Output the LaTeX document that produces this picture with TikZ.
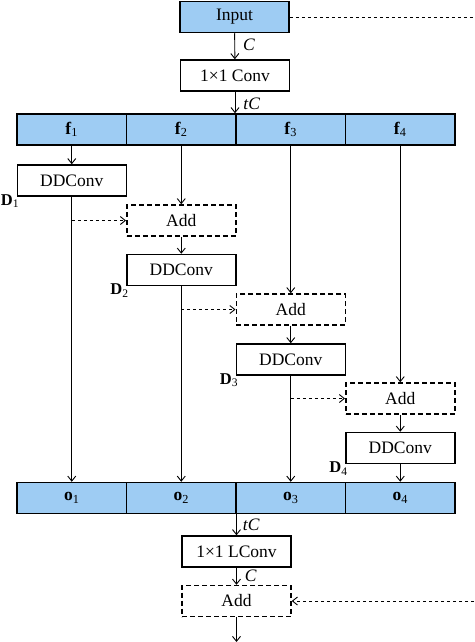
\documentclass[tikz,border=0pt]{standalone}
\usepackage{fontspec}
\setmainfont{Liberation Serif}
\usepackage{tikz}
\usetikzlibrary{arrows.meta}

\definecolor{cellblue}{RGB}{158,204,243}

\begin{document}
\begin{tikzpicture}[x=1pt, y=-1pt,
        font=\fontsize{17.5}{20}\selectfont,
        box/.style={draw, line width=1.5pt, minimum width=109pt, minimum height=31pt, inner sep=0pt},
        addbox/.style={box, dashed, dash pattern=on 5pt off 3pt},
        cell/.style={box, fill=cellblue, minimum width=109.5pt},
        lbl/.style={inner sep=0pt},
        ->/.style={-{Straight Barb[length=5pt, width=8pt]}},
        every path/.style={line width=0.9pt}]
        \useasboundingbox (0,0) rectangle (474,642);

        % top of the block
        \node[box, fill=cellblue] (input) at (234.5,17) {Input};
        \node[box] (conv) at (235,75.5) {1×1 Conv};
        \foreach \i/\x in {1/71.75, 2/181.25, 3/290.75, 4/400.25} {
                \node[cell] (f\i) at (\x,129.5) {\textbf{f}\textsubscript{\i}};
                \node[cell] (o\i) at (\x,498) {\textbf{o}\textsubscript{\i}};
        }

        % dense dilated branches
        \node[box] (dd1) at (71.75,180.5) {DDConv};
        \node[addbox] (add1) at (181.25,220.5) {Add};
        \node[box] (dd2) at (181.25,270) {DDConv};
        \node[addbox] (add2) at (290.75,309.5) {Add};
        \node[box] (dd3) at (290.75,359.5) {DDConv};
        \node[addbox] (add3) at (400.25,398.5) {Add};
        \node[box] (dd4) at (400.25,448) {DDConv};
        \foreach \i in {1,...,4}
                \node[lbl, anchor=north east, font=\fontsize{16.5}{19}\selectfont] (d\i) at ([xshift=3pt, yshift=3pt]dd\i.south west) {\textbf{D}\textsubscript{\i}};

        % bottom of the block
        \node[box] (lconv) at (236.5,551.5) {1×1 LConv};
        \node[addbox] (addo) at (236.5,601) {Add};
        \coordinate (skipin) at (474,17);
        \coordinate (skipout) at (474,601);
        \coordinate (out) at (236.5,642);

        \draw[->] (input) -- (conv) node[lbl, pos=0.45, right=8pt] (c1) {\textit{C}};
        \draw[->] (conv) -- (conv.south |- f2.north) node[lbl, pos=0.55, right=8pt] (c2) {\textit{tC}};
        \draw[dashed] (input.east) -- (skipin);

        \draw[->] (f1) -- (dd1);
        \draw[->] (f2) -- (add1);
        \draw[->] (f3) -- (add2);
        \draw[->] (f4) -- (add3);
        \draw[->] (add1) -- (dd2);
        \draw[->] (add2) -- (dd3);
        \draw[->] (add3) -- (dd4);
        \draw[->] (dd1) -- (o1);
        \draw[->] (dd2) -- (o2);
        \draw[->] (dd3) -- (o3);
        \draw[->] (dd4) -- (o4);
        \draw[->, dashed] (dd1.south |- add1.west) -- (add1.west);
        \draw[->, dashed] (dd2.south |- add2.west) -- (add2.west);
        \draw[->, dashed] (dd3.south |- add3.west) -- (add3.west);

        \draw[->] (lconv.north |- o2.south) -- (lconv) node[lbl, pos=0.5, right=6pt] (c3) {\textit{tC}};
        \draw[->] (lconv) -- (addo) node[lbl, pos=0.45, right=8pt] (c4) {\textit{C}};
        \draw[->, dashed] (skipout) -- (addo.east);
        \draw[->] (addo) -- (out);
\end{tikzpicture}
\end{document}
